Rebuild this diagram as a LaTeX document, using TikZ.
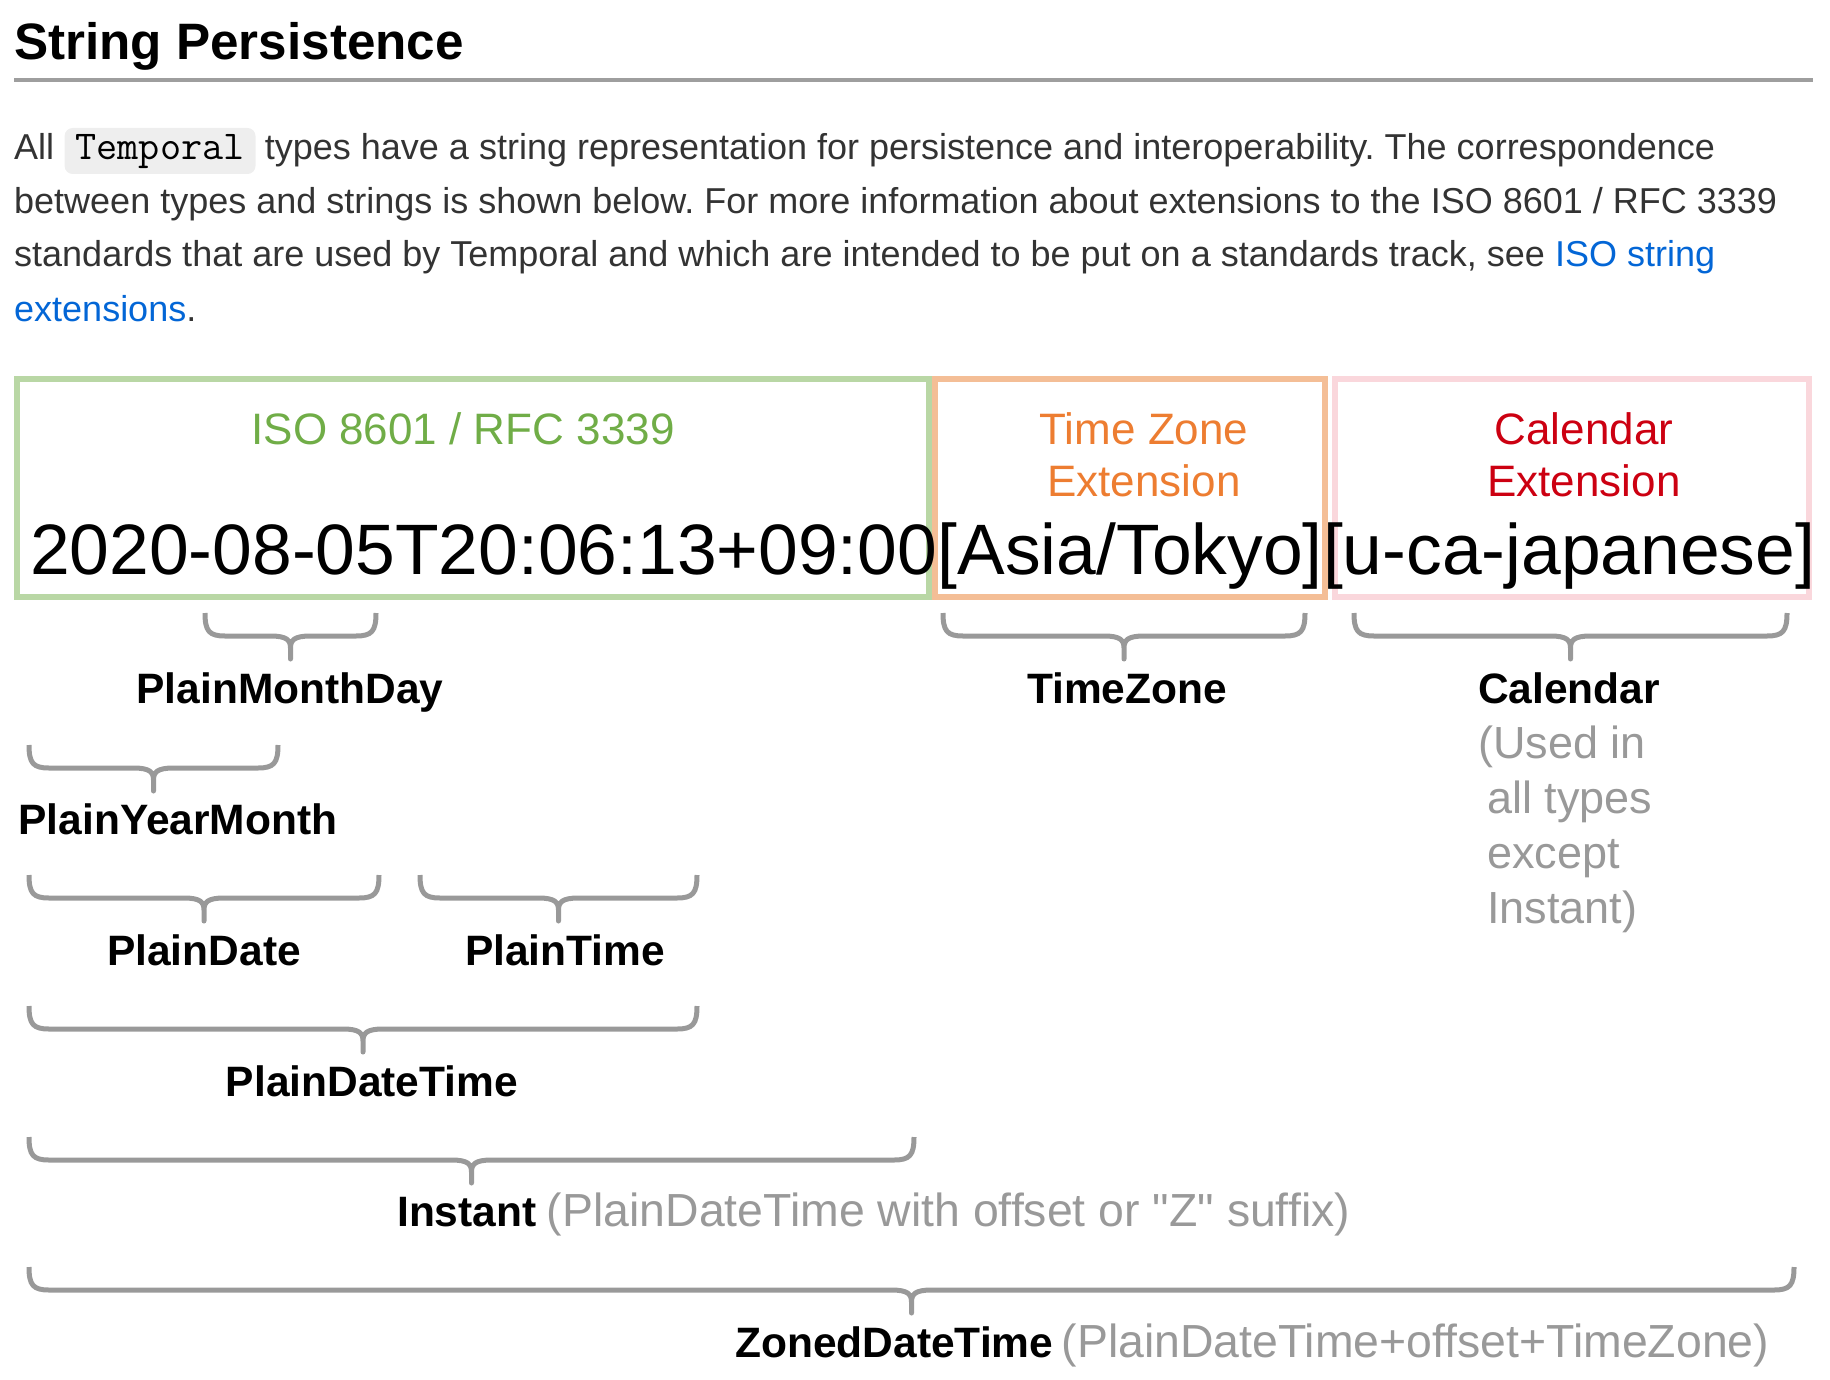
\documentclass[tikz,border=0pt]{standalone}
\usepackage{fontspec}
\setmainfont{Liberation Sans}
\usetikzlibrary{positioning}

\definecolor{isogreen}{RGB}{112,173,71}
\definecolor{isoframe}{RGB}{185,215,165}
\definecolor{tzorange}{RGB}{237,125,49}
\definecolor{tzframe}{RGB}{244,190,150}
\definecolor{calred}{RGB}{204,0,17}
\definecolor{calframe}{RGB}{250,215,220}
\definecolor{bracegray}{RGB}{153,153,153}
\definecolor{rulegray}{RGB}{158,158,158}
\definecolor{bodytext}{RGB}{51,51,51}
\definecolor{linkblue}{RGB}{3,102,214}
\definecolor{codebg}{RGB}{238,238,238}

% curly brace from x #1 to x #2, top of the ends at y #3
\newcommand{\typebrace}[3]{%
  \draw[brace] (#1,#3) .. controls (#1,#3+18) and (#1+4,#3+23) .. (#1+20,#3+23)
    -- ({(#1+#2)/2-20},#3+23) .. controls ({(#1+#2)/2-4},#3+23) and ({(#1+#2)/2},#3+27) .. ({(#1+#2)/2},#3+35)
    -- ({(#1+#2)/2},#3+46) -- ({(#1+#2)/2},#3+35)
    .. controls ({(#1+#2)/2},#3+27) and ({(#1+#2)/2+4},#3+23) .. ({(#1+#2)/2+20},#3+23)
    -- (#2-20,#3+23) .. controls (#2-4,#3+23) and (#2,#3+18) .. (#2,#3);}

\begin{document}
\frenchspacing
\begin{tikzpicture}[x=1pt,y=-1pt,
	txt/.style={inner sep=0pt, anchor=base west},
	body/.style={txt, text=bodytext, font=\fontsize{36}{40}\selectfont},
	code/.style={fill=codebg, rounded corners=8pt, inner xsep=11pt, inner ysep=7pt,
		text height=25pt, text depth=7pt, font=\fontsize{41}{41}\ttfamily},
	head/.style={inner sep=0pt, anchor=base, font=\fontsize{44}{52}\selectfont},
	stamp/.style={txt, font=\fontsize{71.4}{80}\selectfont},
	typename/.style={inner sep=0pt, anchor=base, font=\fontsize{42.5}{50}\selectfont\bfseries},
	note/.style={txt, text=bracegray, font=\fontsize{45}{50}\selectfont},
	aside/.style={text=bracegray, font=\mdseries\fontsize{46.4}{50}\selectfont},
	brace/.style={draw=bracegray, line width=5pt, line join=round},
	frame/.style={line width=6pt}]
	
	\useasboundingbox (0,0) rectangle (1830,1380);
	
	% heading and text
	\node[txt, font=\fontsize{51.2}{60}\selectfont\bfseries] (title) at (14,60) {String Persistence};
	\draw[rulegray, line width=3.5pt] (14,80) -- (1813,80);
	\node[body] (all) at (14,160) {All};
	\node[code, right=10pt of all.base east, anchor=base west] (temporal) {Temporal};
	\node[body, right=9pt of temporal.base east, anchor=base west] (line1) {types have a string representation for persistence and interoperability. The correspondence};
	\node[body] (line2) at (14,214) {between types and strings is shown below. For more information about extensions to the ISO 8601 / RFC 3339};
	\node[body] (line3) at (14,267) {standards that are used by Temporal and which are intended to be put on a standards track, see \textcolor{linkblue}{ISO string}};
	\node[body] (line4) at (14,321) {\textcolor{linkblue}{extensions}.};
	
	% the three parts of the string
	\draw[frame, isoframe] (17,379) rectangle (929,597);
	\draw[frame, tzframe] (935,379) rectangle (1325,597);
	\draw[frame, calframe] (1335,379) rectangle (1809,597);
	\node[head, text=isogreen] (isohead) at (463,444) {ISO 8601 / RFC 3339};
	\node[head, text=tzorange] (tzhead) at (1144,444) {Time Zone};
	\node[head, text=tzorange] (tzext) at (1144,496) {Extension};
	\node[head, text=calred] (calhead) at (1584,444) {Calendar};
	\node[head, text=calred] (calext) at (1584,496) {Extension};
	\node[stamp] (iso) at (30,574) {2020-08-05T20:06:13+09:00};
	\node[stamp, right=0pt of iso.base east, anchor=base west] (tz) {[Asia/Tokyo]};
	\node[stamp, right=0pt of tz.base east, anchor=base west] (cal) {[u-ca-japanese]};
	
	% braces
	\typebrace{205}{376}{613}
	\typebrace{943}{1305}{613}
	\typebrace{1354}{1787}{613}
	\typebrace{29}{278}{745}
	\typebrace{29}{379}{875}
	\typebrace{420}{697}{875}
	\typebrace{29}{697}{1006}
	\typebrace{29}{914}{1137}
	\typebrace{29}{1794}{1267}
	
	% type names
	\node[typename] (pmd) at (290,703) {PlainMonthDay};
	\node[typename] (tzname) at (1127,703) {TimeZone};
	\node[typename, anchor=base west] (calname) at (1478,703) {Calendar};
	\node[note] (used1) at (1478,758) {(Used in};
	\node[note] (used2) at (1487,813) {all types};
	\node[note] (used3) at (1487,868) {except};
	\node[note] (used4) at (1487,923) {Instant)};
	\node[typename] (pym) at (178,834) {PlainYearMonth};
	\node[typename] (pd) at (204,965) {PlainDate};
	\node[typename] (pt) at (565,965) {PlainTime};
	\node[typename] (pdt) at (372,1096) {PlainDateTime};
	\node[typename, anchor=base west] (inst) at (397,1226) {Instant};
	\node[txt, aside, right=10pt of inst.base east, anchor=base west] (instnote) {(PlainDateTime with offset or \textquotedbl Z\textquotedbl\ suffix)};
	\node[typename, anchor=base west] (zdt) at (735,1357) {ZonedDateTime};
	\node[txt, aside, right=8pt of zdt.base east, anchor=base west] (zdtnote) {(PlainDateTime+offset+TimeZone)};
	
\end{tikzpicture}
\end{document}
